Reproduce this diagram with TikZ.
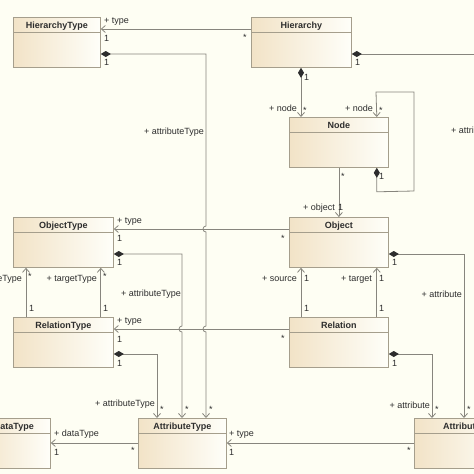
\documentclass[tikz,border=0pt]{standalone}
\usepackage{fontspec}
\setsansfont{Liberation Sans}
\usepackage{tikz}
\usetikzlibrary{arrows.meta}

\definecolor{paper}{RGB}{254,254,243}
\definecolor{boxtan}{RGB}{242,227,199}
\definecolor{boxline}{RGB}{165,158,140}
\definecolor{wire}{RGB}{135,133,125}
\definecolor{ink}{RGB}{45,45,45}

\tikzset{
  umlclass/.style={draw=boxline, line width=0.8pt, left color=boxtan, right color=paper!50!white,
    anchor=north west, minimum height=50pt, inner sep=0pt,
    path picture={\draw[boxline, line width=0.8pt]
      ([yshift=-15pt]path picture bounding box.north west) -- ([yshift=-15pt]path picture bounding box.north east);}},
  title/.style={font=\sffamily\bfseries\fontsize{9}{10}\selectfont, text=ink, anchor=base, inner sep=0pt},
  role/.style={font=\sffamily\fontsize{9}{10}\selectfont, text=ink, inner sep=0pt},
  plain/.style={draw=wire, line width=0.8pt},
  assoc/.style={plain, -{Straight Barb[length=4pt, width=7pt]}},
  comp/.style={plain, {Diamond[length=10pt, width=6pt, color=ink]}-{Straight Barb[length=4pt, width=7pt]}},
  own/.style={plain, {Diamond[length=10pt, width=6pt, color=ink]}-},
}

\begin{document}
\begin{tikzpicture}[x=1pt, y=-1pt]
  \useasboundingbox (0,0) rectangle (474,474);
  \clip (0,0) rectangle (474,474);
  \fill[paper] (0,0) rectangle (474,474);

  \node[umlclass, minimum width=87pt] (htype) at (13,17) {};
  \node[umlclass, minimum width=100pt] (hier) at (251,17) {};
  \node[umlclass, minimum width=99pt] (nd) at (289,117) {};
  \node[umlclass, minimum width=100pt] (otype) at (13,217) {};
  \node[umlclass, minimum width=99pt] (obj) at (289,217) {};
  \node[umlclass, minimum width=100pt] (rtype) at (13,317) {};
  \node[umlclass, minimum width=99pt] (rel) at (289,317) {};
  \node[umlclass, minimum width=73pt] (dtype) at (-23,418) {};
  \node[umlclass, minimum width=88pt] (atype) at (138,418) {};
  \node[umlclass, minimum width=95pt] (attr) at (414,418) {};

  \node[title] (htypeName) at ([yshift=-11pt]htype.north) {HierarchyType};
  \node[title] (hierName) at ([yshift=-11pt]hier.north) {Hierarchy};
  \node[title] (ndName) at ([yshift=-11pt]nd.north) {Node};
  \node[title] (otypeName) at ([yshift=-11pt]otype.north) {ObjectType};
  \node[title] (objName) at ([yshift=-11pt]obj.north) {Object};
  \node[title] (rtypeName) at ([yshift=-11pt]rtype.north) {RelationType};
  \node[title] (relName) at ([yshift=-11pt]rel.north) {Relation};
  \node[title] (dtypeName) at ([yshift=-11pt]dtype.north) {DataType};
  \node[title] (atypeName) at ([yshift=-11pt]atype.north) {AttributeType};
  \node[title] (attrName) at ([yshift=-11pt]attr.north) {Attribute};

  \coordinate (hierOut) at (480,54);

  \draw[assoc] ([yshift=-12pt]hier.north west) -- ([yshift=-12pt]htype.north east);
  \draw[comp] ([yshift=-37pt]htype.north east) -- (206,54) -- (206,226)
    arc[start angle=90, end angle=270, radius=3pt] -- (206,326)
    arc[start angle=90, end angle=270, radius=3pt] -- ([xshift=68pt]atype.north west);
  \draw[own] ([yshift=-37pt]hier.north east) -- (hierOut);
  \draw[comp] ([xshift=50pt]hier.south west) -- ([xshift=12pt]nd.north west);
  \draw[comp] ([xshift=-12pt]nd.south east) -- ++(0,24) -- (414,191) -- (414,92) -- (376,92)
    -- ([xshift=-12pt]nd.north east);
  \draw[assoc] (nd.south) -- (obj.north);
  \draw[assoc] ([yshift=-12pt]obj.north west) -- ([yshift=-12pt]otype.north east);
  \draw[comp] ([yshift=-37pt]otype.north east) -- (182,254) -- (182,326)
    arc[start angle=90, end angle=270, radius=3pt] -- ([xshift=44pt]atype.north west);
  \draw[assoc] ([xshift=13pt]rtype.north west) -- ([xshift=13pt]otype.south west);
  \draw[assoc] ([xshift=-13pt]rtype.north east) -- ([xshift=-13pt]otype.south east);
  \draw[assoc] ([yshift=-12pt]rel.north west) -- ([yshift=-12pt]rtype.north east);
  \draw[comp] ([yshift=-37pt]rtype.north east) -| ([xshift=19pt]atype.north west);
  \draw[assoc] ([xshift=12pt]rel.north west) -- ([xshift=12pt]obj.south west);
  \draw[assoc] ([xshift=-12pt]rel.north east) -- ([xshift=-12pt]obj.south east);
  \draw[comp] ([yshift=-37pt]obj.north east) -| ([xshift=50pt]attr.north west);
  \draw[comp] ([yshift=-37pt]rel.north east) -| ([xshift=18pt]attr.north west);
  \draw[assoc] ([yshift=-25pt]attr.north west) -- ([yshift=-25pt]atype.north east);
  \draw[assoc] ([yshift=-25pt]atype.north west) -- ([yshift=-25pt]dtype.north east);

  \node[role, anchor=base west] (htypeRole) at (104,23) {+ type};
  \node[role, anchor=base west] (htypeMul) at (104,41) {1};
  \node[role, anchor=base west] (hierStar) at (243,40) {*};
  \node[role, anchor=base west] (htypeOwn) at (104,65) {1};
  \node[role, anchor=base east] (htypeAttRole) at (204,134) {+ attributeType};
  \node[role, anchor=base west] (htypeAttStar) at (209,412) {*};

  \node[role, anchor=base west] (hierOwn) at (355,65) {1};
  \node[role, anchor=base west] (hierNdOwn) at (304,80) {1};
  \node[role, anchor=base east] (hierNdRole) at (297,111) {+ node};
  \node[role, anchor=base west] (hierNdStar) at (303,113) {*};
  \node[role, anchor=base west] (hierOutRole) at (451,133) {+ attributeType};

  \node[role, anchor=base east] (ndSelfRole) at (373,111) {+ node};
  \node[role, anchor=base west] (ndSelfStar) at (379,113) {*};
  \node[role, anchor=base west] (ndSelfOwn) at (379,179) {1};

  \node[role, anchor=base west] (ndObjStar) at (341,179) {*};
  \node[role, anchor=base east] (ndObjRole) at (335,210) {+ object};
  \node[role, anchor=base west] (ndObjMul) at (338,210) {1};

  \node[role, anchor=base west] (otypeRole) at (117,223) {+ type};
  \node[role, anchor=base west] (otypeMul) at (117,241) {1};
  \node[role, anchor=base west] (objStar) at (281,241) {*};
  \node[role, anchor=base west] (otypeOwn) at (117,265) {1};
  \node[role, anchor=base east] (otypeAttRole) at (181,296) {+ attributeType};
  \node[role, anchor=base west] (otypeAttStar) at (185,412) {*};

  \node[role, anchor=base east] (srcTypeRole) at (22,281) {+ sourceType};
  \node[role, anchor=base west] (srcTypeStar) at (28,279) {*};
  \node[role, anchor=base west] (srcTypeMul) at (29,311) {1};
  \node[role, anchor=base east] (tgtTypeRole) at (97,281) {+ targetType};
  \node[role, anchor=base west] (tgtTypeStar) at (103,279) {*};
  \node[role, anchor=base west] (tgtTypeMul) at (103,311) {1};

  \node[role, anchor=base west] (rtypeRole) at (117,323) {+ type};
  \node[role, anchor=base west] (rtypeMul) at (117,342) {1};
  \node[role, anchor=base west] (relStar) at (281,341) {*};
  \node[role, anchor=base west] (rtypeOwn) at (117,366) {1};
  \node[role, anchor=base east] (rtypeAttRole) at (155,406) {+ attributeType};
  \node[role, anchor=base west] (rtypeAttStar) at (160,412) {*};

  \node[role, anchor=base east] (srcRole) at (297,281) {+ source};
  \node[role, anchor=base west] (srcMul) at (304,281) {1};
  \node[role, anchor=base west] (srcRelMul) at (304,311) {1};
  \node[role, anchor=base east] (tgtRole) at (372,281) {+ target};
  \node[role, anchor=base west] (tgtMul) at (379,281) {1};
  \node[role, anchor=base west] (tgtRelMul) at (379,311) {1};

  \node[role, anchor=base west] (objOwn) at (392,265) {1};
  \node[role, anchor=base east] (objAttRole) at (462,297) {+ attribute};
  \node[role, anchor=base west] (objAttStar) at (467,412) {*};
  \node[role, anchor=base west] (relOwn) at (392,366) {1};
  \node[role, anchor=base east] (relAttRole) at (430,408) {+ attribute};
  \node[role, anchor=base west] (relAttStar) at (435,412) {*};

  \node[role, anchor=base west] (atypeRole) at (229,436) {+ type};
  \node[role, anchor=base west] (atypeMul) at (229,455) {1};
  \node[role, anchor=base west] (attrStar) at (407,453) {*};
  \node[role, anchor=base west] (dtypeRole) at (54,436) {+ dataType};
  \node[role, anchor=base west] (dtypeMul) at (54,455) {1};
  \node[role, anchor=base west] (atypeStar) at (131,453) {*};
\end{tikzpicture}
\end{document}
